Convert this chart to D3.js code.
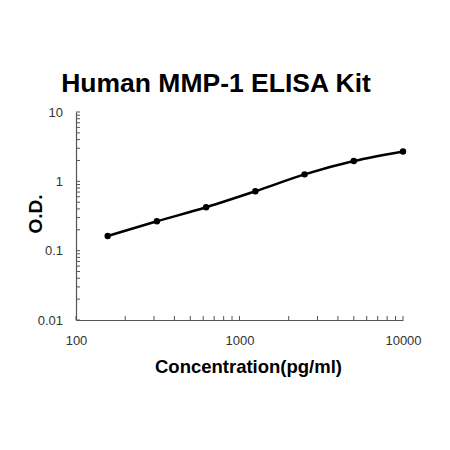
<!DOCTYPE html>
<html>
<head>
<meta charset="utf-8">
<script src="https://cdn.jsdelivr.net/npm/d3@7"></script>
<style>
  body { margin: 0; background: #fff; }
  text { font-family: "Liberation Sans", Arial, sans-serif; }
</style>
</head>
<body>
<div id="chart"></div>
<script>
// data
var concentration = [156.25, 312.5, 625, 1250, 2500, 5000, 10000];
var od = [0.163, 0.265, 0.423, 0.718, 1.26, 1.96, 2.70];
var xTicks = [100, 1000, 10000];
var yTicks = [0.01, 0.1, 1, 10];

var margin = {top: 112, right: 47, bottom: 130, left: 76},
    width = 450 - margin.left - margin.right,
    height = 450 - margin.top - margin.bottom;

var svg = d3.select("#chart")
  .append("svg")
    .attr("width", 450)
    .attr("height", 450)
  .append("g")
    .attr("transform", "translate(" + margin.left + "," + margin.top + ")");

var x = d3.scaleLog()
  .domain([100, 10000])
  .range([0, width]);

var y = d3.scaleLog()
  .domain([0.01, 10])
  .range([height, 0]);

// minor ticks for each decade
function minors(lo, hi) {
  var out = [];
  for (var d = lo; d < hi; d *= 10) {
    for (var k = 2; k <= 9; k++) out.push(d * k);
  }
  return out;
}

// Add X axis
var gx = svg.append("g")
  .attr("transform", "translate(0," + height + ")")
  .call(d3.axisBottom(x).tickValues(xTicks).tickFormat(d3.format("d")).tickSize(0).tickPadding(16));
gx.selectAll(".minor")
  .data(minors(100, 10000).concat(xTicks))
  .enter()
  .append("line")
    .attr("x1", function(d) { return x(d); })
    .attr("x2", function(d) { return x(d); })
    .attr("y1", 0)
    .attr("y2", -4)
    .attr("stroke", "#555");

// Add Y axis
var gy = svg.append("g")
  .call(d3.axisLeft(y).tickValues(yTicks).tickFormat(function(d) { return d; }).tickSize(0).tickPadding(13));
gy.selectAll(".minor")
  .data(minors(0.01, 10).concat(yTicks))
  .enter()
  .append("line")
    .attr("x1", 0)
    .attr("x2", 4)
    .attr("y1", function(d) { return y(d); })
    .attr("y2", function(d) { return y(d); })
    .attr("stroke", "#555");

svg.selectAll(".domain").attr("stroke", "#555").attr("stroke-width", 1.2);
svg.selectAll(".tick text")
  .attr("fill", "#333")
  .style("font-size", "13px");

// curve through the points
var pts = concentration.map(function(c, i) { return [c, od[i]]; });
var line = d3.line()
  .x(function(d) { return x(d[0]); })
  .y(function(d) { return y(d[1]); })
  .curve(d3.curveMonotoneX);

svg.append("path")
  .datum(pts)
  .attr("d", line)
  .attr("fill", "none")
  .attr("stroke", "#000")
  .attr("stroke-width", 2.5);

// Add dots
svg.append("g")
  .selectAll("circle")
  .data(pts)
  .enter()
  .append("circle")
    .attr("cx", function(d) { return x(d[0]); })
    .attr("cy", function(d) { return y(d[1]); })
    .attr("r", 3.2)
    .style("fill", "#000");

// titles
svg.append("text")
  .attr("x", 140)
  .attr("y", -20)
  .attr("text-anchor", "middle")
  .style("font-size", "26.5px")
  .style("font-weight", "bold")
  .text("Human MMP-1 ELISA Kit");

svg.append("text")
  .attr("x", width / 2 + 9)
  .attr("y", height + 53)
  .attr("text-anchor", "middle")
  .style("font-size", "18.5px")
  .style("font-weight", "bold")
  .text("Concentration(pg/ml)");

svg.append("text")
  .attr("transform", "translate(-41," + (102) + ") rotate(-90)")
  .attr("text-anchor", "middle")
  .attr("dy", "0.35em")
  .style("font-size", "19px")
  .style("font-weight", "bold")
  .text("O.D.");
</script>
</body>
</html>
